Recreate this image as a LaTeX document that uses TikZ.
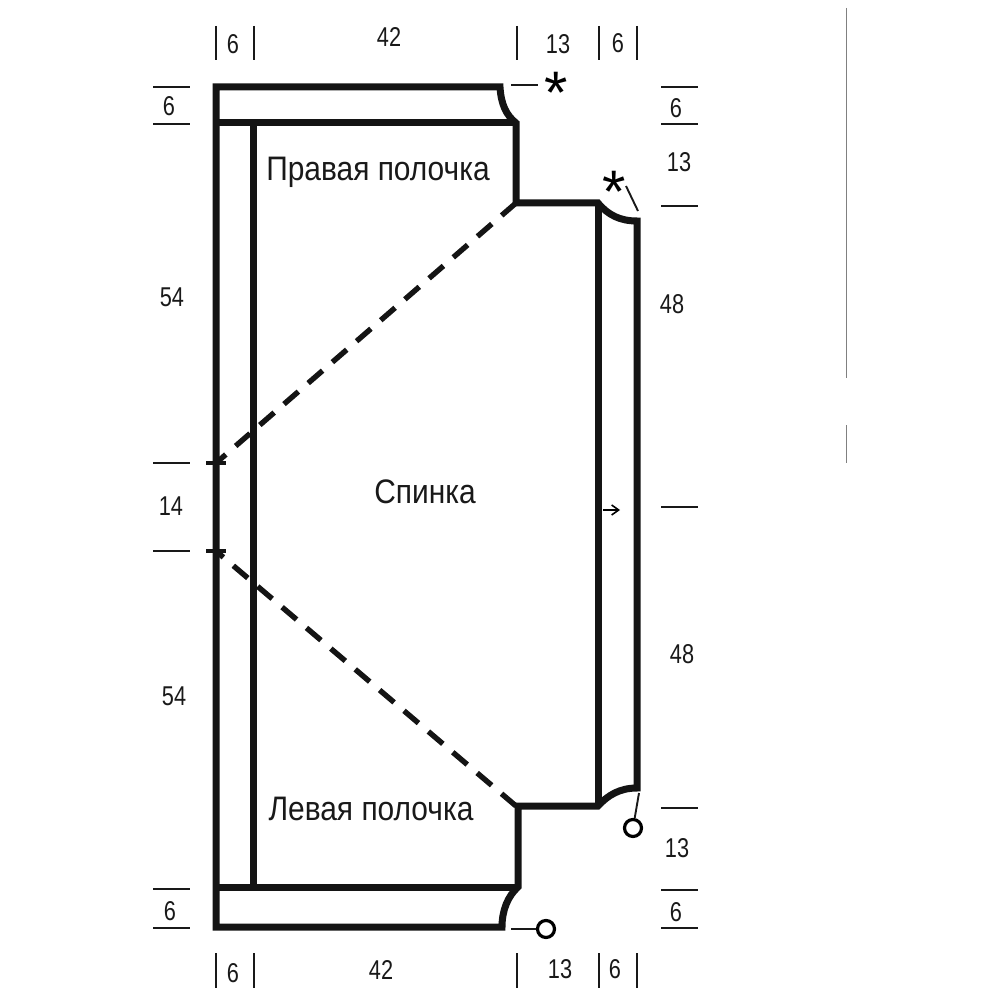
\documentclass[tikz,border=0pt]{standalone}
\usepackage{fontspec}
\setmainfont[FakeStretch=0.8]{Liberation Sans}
\newfontfamily\starfont{Liberation Sans}
\newfontfamily\titlefont[FakeStretch=0.88]{Liberation Sans}
\usetikzlibrary{arrows.meta}
\tikzset{
  x=0.5pt,y=-0.5pt,
  outline/.style={line width=3.5pt,line cap=butt,line join=miter,black!92},
  cutline/.style={line width=2.7pt,black!92,dash pattern=on 9.5pt off 6.5pt},
  tick/.style={line width=0.95pt,black!90},
  heavytick/.style={line width=1.2pt,black!90},
  dim/.style={font=\fontsize{13.6}{15}\selectfont,inner sep=0pt,text=black!90},
  title/.style={font=\titlefont\fontsize{17}{19}\selectfont,inner sep=0pt,text=black!90},
  mark circle/.style={circle,draw,line width=1.6pt,minimum size=8.5pt,inner sep=0pt},
  star/.style={font=\starfont\fontsize{30}{30}\selectfont,inner sep=0pt,text=black}
}
\begin{document}
\begin{tikzpicture}
\useasboundingbox (0,0) rectangle (1000,1000);
% body outline
\coordinate (tl) at (216,87);
\coordinate (tc) at (500,87);
\coordinate (shr) at (516,123);
\coordinate (nr) at (516,203);
\coordinate (sl) at (598,203);
\coordinate (cuffr) at (637,221);
\coordinate (cuffl) at (637,788);
\coordinate (sb) at (598,806);
\coordinate (nl) at (518,806);
\coordinate (shl) at (518,887);
\coordinate (bc) at (502,927);
\coordinate (bl) at (216,927);
\coordinate (hl) at (216,123);
\coordinate (hb) at (216,887);
\coordinate (fu) at (253,123);
\coordinate (fd) at (253,887);
\coordinate (sbi) at (516,806);
\coordinate (dashu) at (216,463);
\coordinate (dashd) at (216,551);
\draw[outline] (tl) -- (tc) .. controls (501,104) and (506,115) .. (shr) -- (nr) -- (sl)
  .. controls (608,215) and (620,221) .. (cuffr) -- (cuffl)
  .. controls (620,788) and (608,795) .. (sb) -- (nl) -- (shl)
  .. controls (508,896) and (502,910) .. (bc) -- (bl) -- cycle;
\draw[outline] (hl) -- (shr);
\draw[outline] (hb) -- (shl);
\draw[outline] (fu) -- (fd);
\draw[outline] (sl) -- (sb);
\draw[cutline] (nr) -- (dashu);
\draw[cutline] (sbi) -- (dashd);
\draw[line width=2.4pt,black!92] (206,463) -- (226,463);
\draw[line width=2.4pt,black!92] (206,551) -- (226,551);
% top ticks
\foreach \a/\b/\c in {216/26/60,254/26/60,517/26/60,599/26/60,637/26/60,
                      216/953/988,254/953/988,517/953/988,599/953/988,637/953/988}
  \draw[heavytick] (\a,\b) -- (\a,\c);
% left ticks
\foreach \a/\b/\c in {153/190/87,153/190/124,153/190/463,153/190/551,153/190/889,153/190/928,
                      661/698/87,661/698/124,661/698/206,661/698/507,661/698/808,661/698/890,661/698/928}
  \draw[heavytick] (\a,\c) -- (\b,\c);
% labels
\node[dim] (t6a) at (233,44) {6};
\node[dim] (t42) at (389,37) {42};
\node[dim] (t13) at (558,44) {13};
\node[dim] (t6b) at (618,43) {6};
\node[dim] (b6a) at (233,973) {6};
\node[dim] (b42) at (381,970) {42};
\node[dim] (b13) at (560,969) {13};
\node[dim] (b6b) at (615,969) {6};
\node[dim] (l6a) at (169,106) {6};
\node[dim] (l54a) at (172,297) {54};
\node[dim] (l14) at (171,506) {14};
\node[dim] (l54b) at (174,696) {54};
\node[dim] (l6b) at (170,911) {6};
\node[dim] (r6a) at (676,108) {6};
\node[dim] (r13a) at (679,162) {13};
\node[dim] (r48a) at (672,304) {48};
\node[dim] (r48b) at (682,654) {48};
\node[dim] (r13b) at (677,848) {13};
\node[dim] (r6b) at (676,912) {6};
\node[title] (pr) at (378,172) {Правая полочка};
\node[title] (sp) at (425,492) {Спинка};
\node[title] (lv) at (371,809) {Левая полочка};
% marks
\node[star] (s1) at (556,93) {*};
\node[star] (s2) at (614,192) {*};
\node[mark circle] (c1) at (633,828) {};
\node[mark circle] (c2) at (546,929) {};
\coordinate (s1l) at (511,85);
\coordinate (s1r) at (538,85);
\draw[tick] (s1l) -- (s1r);
\coordinate (s2a) at (626,186);
\coordinate (s2b) at (638,211);
\draw[tick] (s2a) -- (s2b);
\coordinate (c1a) at (639,793);
\draw[tick] (c1a) -- (c1);
\coordinate (c2a) at (511,929);
\draw[tick] (c2a) -- (c2);
% arrow in cuff
\coordinate (ara) at (603,510);
\coordinate (arb) at (620,510);
\draw[line width=0.8pt,-{Straight Barb[length=3.5pt,width=5pt]}] (ara) -- (arb);
% right margin rules
\coordinate (ra) at (846,8);
\coordinate (rb) at (846,378);
\coordinate (rc) at (846,425);
\coordinate (rd) at (846,463);
\draw[line width=0.4pt,black!50] (ra) -- (rb);
\draw[line width=0.4pt,black!50] (rc) -- (rd);
\end{tikzpicture}
\end{document}
